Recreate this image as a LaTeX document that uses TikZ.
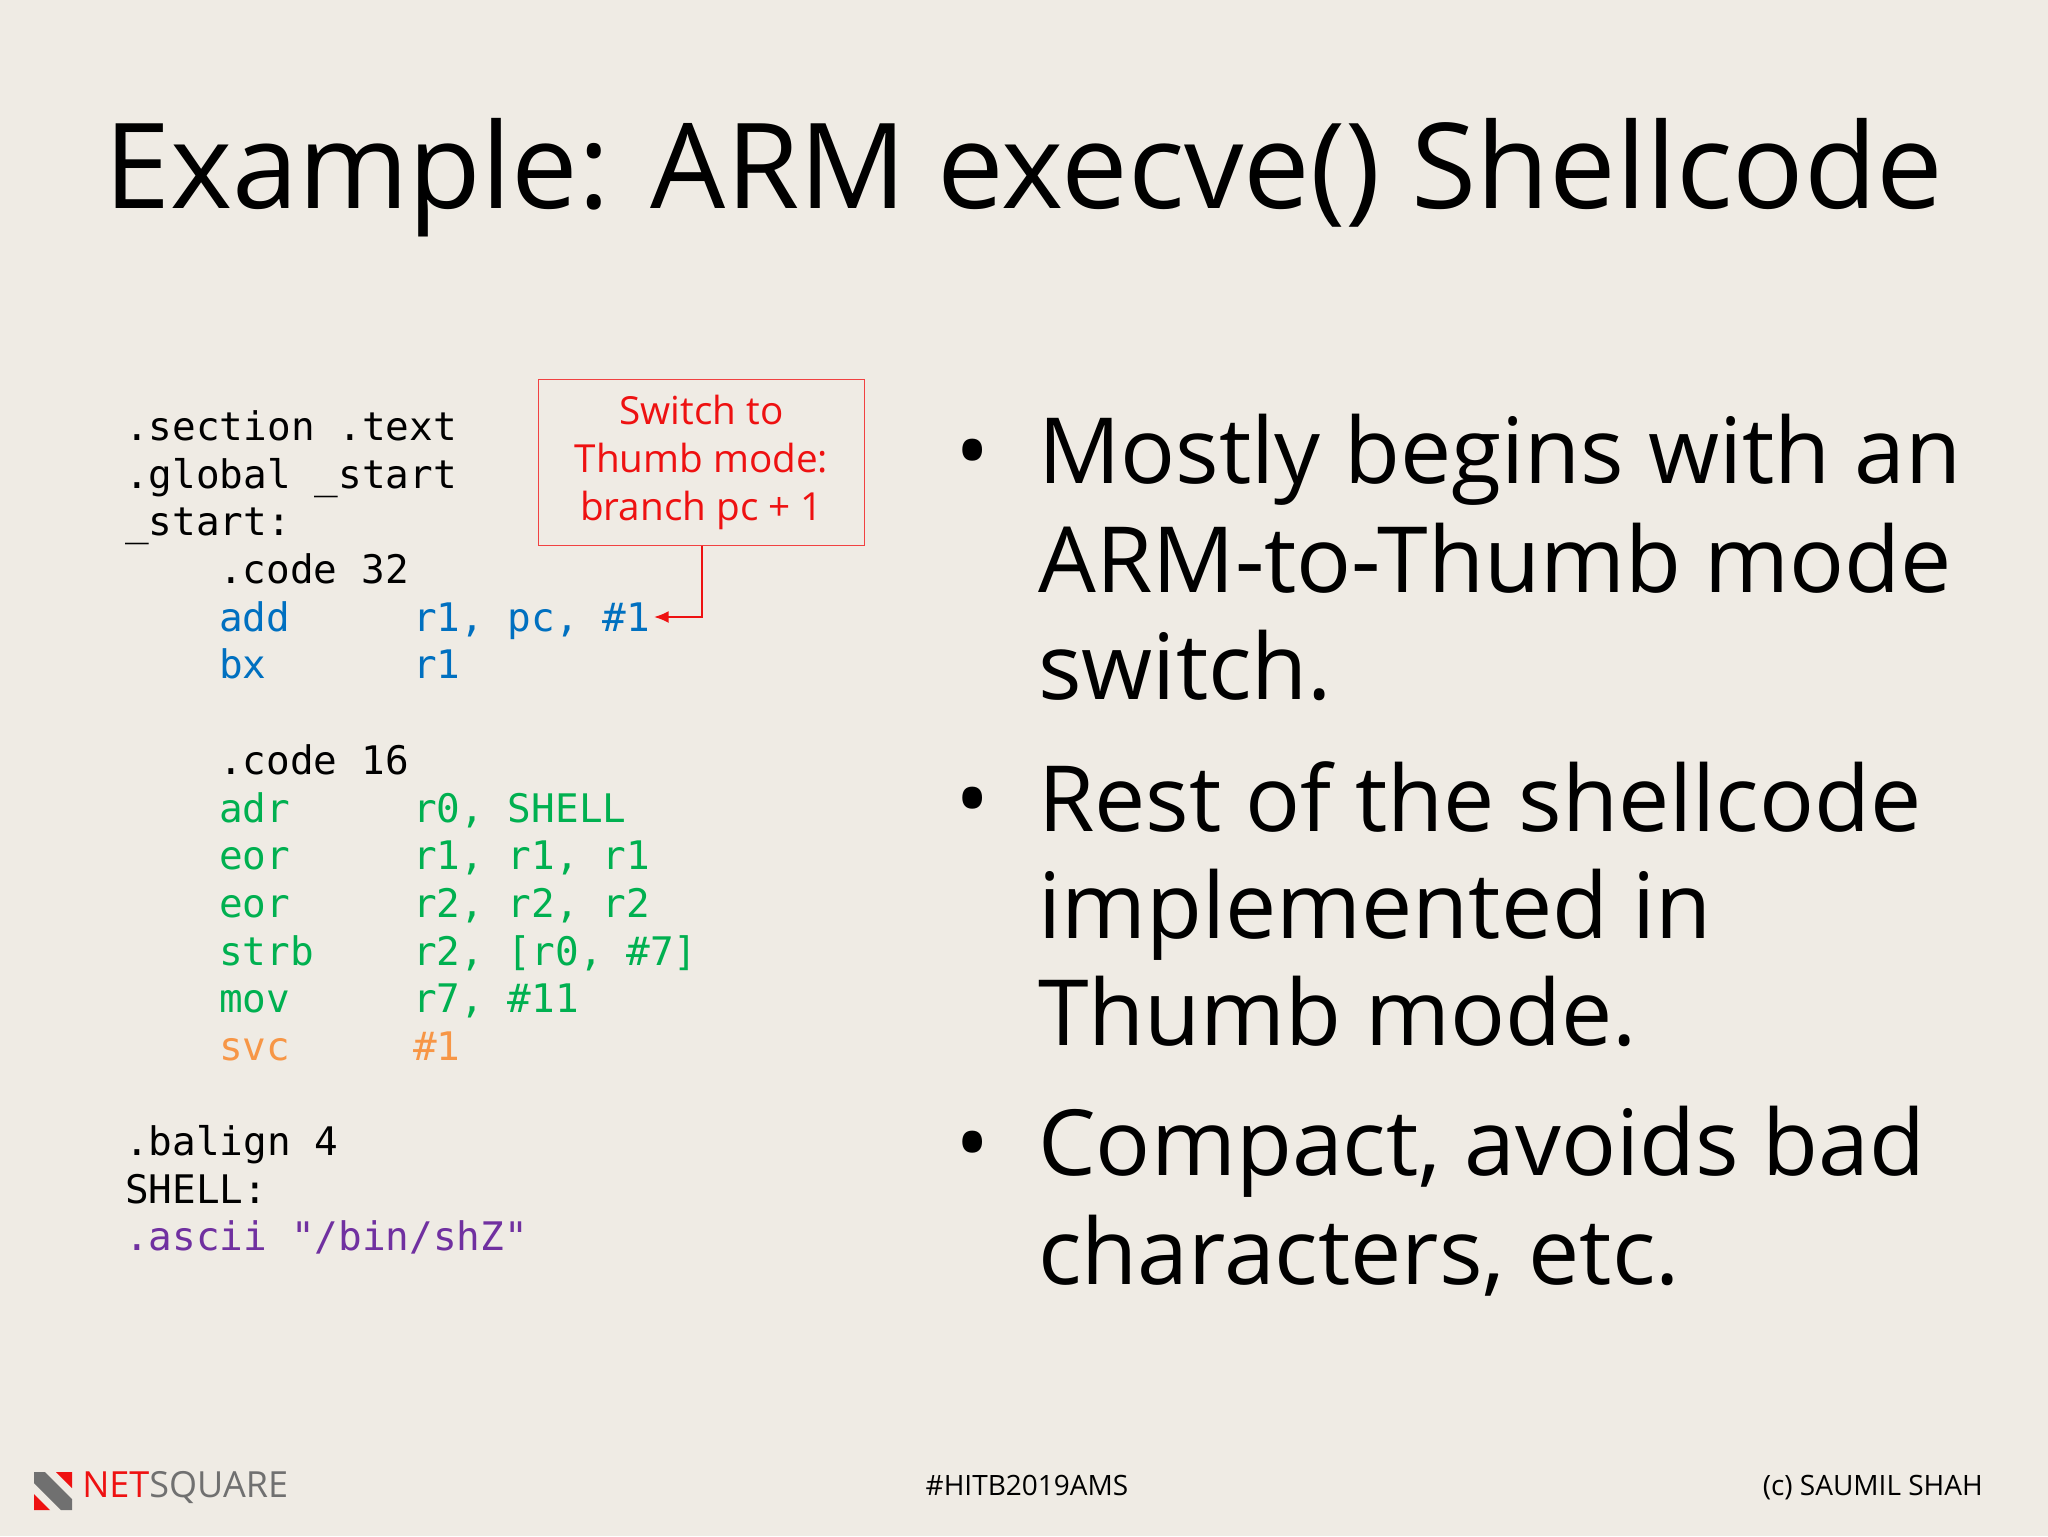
\documentclass[tikz,border=0pt]{standalone}
\usepackage{fontspec}
\usetikzlibrary{arrows.meta}
\setmainfont{Open Sans}
\setmonofont{DejaVu Sans Mono}
\definecolor{bg}{HTML}{EFEBE4}
\definecolor{cblue}{HTML}{0070C0}
\definecolor{cgreen}{HTML}{00B050}
\definecolor{corange}{HTML}{F79646}
\definecolor{cpurple}{HTML}{7030A0}
\definecolor{cred}{HTML}{EE1111}
\definecolor{lgray}{HTML}{707070}
\begin{document}
\begin{tikzpicture}[x=0.75pt,y=-0.75pt,
  code/.style={anchor=base west,inner sep=0pt,font=\fontsize{29.5}{30}\selectfont\ttfamily},
  bul/.style={anchor=base west,inner sep=0pt,font=\fontsize{68.5}{80}\selectfont},
  foot/.style={anchor=base,inner sep=0pt,font=\fontsize{21}{24}\selectfont}]
\fill[bg] (0,0) rectangle (2048,1536);
\useasboundingbox (0,0) rectangle (2048,1536);
\node[anchor=base,inner sep=0pt,font=\fontsize{89}{100}\selectfont] (title) at (1024,208) {Example: ARM execve() Shellcode};
% code
\def\cl{125}\def\ci{219}\def\co{413}
\node[code] (l1) at (\cl,440) {.section .text};
\node[code] (l2) at (\cl,488) {.global \_start};
\node[code] (l3) at (\cl,535) {\_start:};
\node[code] (l4) at (\ci,583) {.code 32};
\node[code,cblue] (l5) at (\ci,631) {add};
\node[code,cblue] (l5b) at (\co,631) {r1, pc, \#1};
\node[code,cblue] (l6) at (\ci,678) {bx};
\node[code,cblue] (l6b) at (\co,678) {r1};
\node[code] (l7) at (\ci,774) {.code 16};
\node[code,cgreen] (l8) at (\ci,822) {adr};
\node[code,cgreen] (l8b) at (\co,822) {r0, SHELL};
\node[code,cgreen] (l9) at (\ci,869) {eor};
\node[code,cgreen] (l9b) at (\co,869) {r1, r1, r1};
\node[code,cgreen] (l10) at (\ci,917) {eor};
\node[code,cgreen] (l10b) at (\co,917) {r2, r2, r2};
\node[code,cgreen] (l11) at (\ci,965) {strb};
\node[code,cgreen] (l11b) at (\co,965) {r2, [r0, \#7]};
\node[code,cgreen] (l12) at (\ci,1012) {mov};
\node[code,cgreen] (l12b) at (\co,1012) {r7, \#11};
\node[code,corange] (l13) at (\ci,1060) {svc};
\node[code,corange] (l13b) at (\co,1060) {\#1};
\node[code] (l14) at (\cl,1155) {.balign 4};
\node[code] (l15) at (\cl,1203) {SHELL:};
\node[code,cpurple] (l16) at (\cl,1250) {.ascii "/bin/shZ"};
% callout
\node[draw=cred!80,line width=0.8pt,minimum width=245pt,minimum height=124pt,inner sep=0pt,
  text=cred,align=center,font=\fontsize{29}{36}\selectfont] (box) at (701.5,462.5)
  {Switch to\\Thumb mode:\\branch pc + 1};
\coordinate (tip) at (654,617);
\draw[cred,line width=1.5pt,-{Latex[length=11pt,width=9pt]}] (box.south) |- (tip);
% bullets
\foreach \y/\t in {483/Mostly begins with an,592/ARM-to-Thumb mode,699/switch.,831/Rest of the shellcode,938/implemented in,1045/Thumb mode.,1175/{Compact, avoids bad},1284/{characters, etc.}}
  \node[bul] at (1038,\y) {\t};
\foreach \y in {483,831,1175}
  \node[bul,anchor=base] at (973,\y) {•};
% footer
\node[foot] (hash) at (1027,1495) {\#HITB2019AMS};
\node[foot,anchor=base east] (copy) at (1983,1495) {(c) SAUMIL SHAH};
\node[anchor=base west,inner sep=0pt,font=\fontsize{27}{30}\selectfont] (ns) at (82,1497) {\textcolor{cred}{NET}\textcolor{lgray}{SQUARE}};
\fill[lgray] (34,1472) -- (45,1472) -- (72,1499) -- (72,1510) -- (61,1510) -- (34,1483) -- cycle;
\fill[cred] (56,1472) -- (72,1472) -- (72,1488) -- cycle;
\fill[cred] (34,1494) -- (34,1510) -- (50,1510) -- cycle;
\end{tikzpicture}
\end{document}
